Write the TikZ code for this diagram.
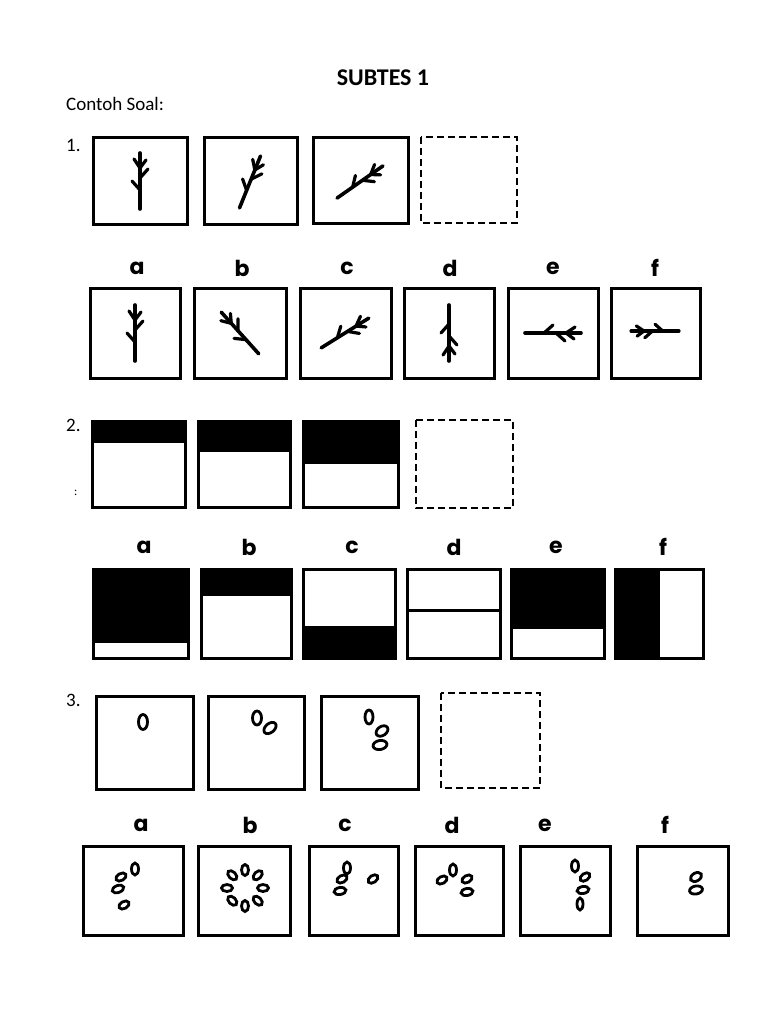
\documentclass[tikz,border=0pt]{standalone}
\usepackage{fontspec}
\setmainfont{Carlito}
\newfontfamily\lblfont{Poppins}
\begin{document}
\begin{tikzpicture}[x=1pt,y=-1pt,
  qbox/.style={draw,line width=3pt},
  dbox/.style={draw,line width=2.6pt,dash pattern=on 7pt off 4pt},
  lbl/.style={font=\lblfont\bfseries\fontsize{22}{24}\selectfont,inner sep=0pt},
  num/.style={font=\fontsize{19}{22}\selectfont,inner sep=0pt,anchor=west},
  blob/.style={draw,line width=2.8pt},
  twig/.pic={
    \draw[line width=3.6pt,line cap=round] (0,-28)--(0,28);
    \draw[line width=3.2pt,line cap=round] (0,-13)--(-6,-22) (0,-13)--(6,-21)
      (0,-3)--(8,-12) (0,9)--(-8,0);
  }]
\useasboundingbox (0,0) rectangle (768,1024);
\fill[white] (0,0) rectangle (768,1024);
\node[font=\bfseries\fontsize{24}{28}\selectfont] (title) at (383,78) {SUBTES 1};
\node[num] (cs) at (66,104) {Contoh Soal:};
% ---------- 1
\node[num] (n1) at (66,145) {1.};
\draw[qbox] (93,138) rectangle (187,225);
\draw[qbox] (204,138) rectangle (297,225);
\draw[qbox] (313,138) rectangle (408,224);
\draw[dbox] (421,137) rectangle (517,223);
\pic at (140,181) {twig};
\pic[rotate=-22] at (250,182) {twig};
\pic[rotate=-55] at (360,182) {twig};
\foreach \l/\x in {a/137,b/242,c/347,d/450,e/553,f/655}
  \node[lbl] (l1\l) at (\x,268) {\l};
\foreach \a/\b in {90/180,194/286,300/391,404/494,508/598,611/700}
  \draw[qbox] (\a,288) rectangle (\b,378);
\pic at (135,333) {twig};
\pic[rotate=42] at (240,333) {twig};
\pic[rotate=-58] at (345,333) {twig};
\pic[yscale=-1] at (449,333) {twig};
\pic[rotate=-90] at (553,333) {twig};
\pic[rotate=90,xscale=-1,scale=0.85] at (655,331) {twig};
% ---------- 2
\node[num] (n2) at (66,425) {2.};
\node[num,font=\fontsize{12}{14}\selectfont] (dot) at (74,493) {:};
\draw[qbox] (92,421) rectangle (185,507); \fill (92,421) rectangle (185,443);
\draw[qbox] (198,421) rectangle (290,507); \fill (198,421) rectangle (290,452);
\draw[qbox] (303,421) rectangle (398,507); \fill (303,421) rectangle (398,464);
\draw[dbox] (416,420) rectangle (513,508);
\foreach \l/\x in {a/144,b/249,c/352,d/454,e/556,f/663}
  \node[lbl] (l2\l) at (\x,547) {\l};
\draw[qbox] (93,569) rectangle (188,658); \fill (93,569) rectangle (188,643);
\draw[qbox] (201,569) rectangle (291,658); \fill (201,569) rectangle (291,596);
\draw[qbox] (303,569) rectangle (395,658); \fill (303,626) rectangle (395,658);
\draw[qbox] (407,569) rectangle (500,658); \draw[line width=3pt] (407,610)--(500,610);
\draw[qbox] (511,569) rectangle (604,658); \fill (511,569) rectangle (604,629);
\draw[qbox] (615,569) rectangle (703,658); \fill (615,569) rectangle (660,658);
% ---------- 3
\node[num] (n3) at (66,700) {3.};
\draw[qbox] (96,696) rectangle (193,789);
\draw[qbox] (208,696) rectangle (304,789);
\draw[qbox] (321,696) rectangle (418,789);
\draw[dbox] (441,693) rectangle (540,788);
\draw[blob] (143,722) ellipse (4.5 and 7.5);
\draw[blob] (257,718) ellipse (4.5 and 7);
\draw[blob,rotate around={-50:(270,728)}] (270,728) ellipse (4.5 and 7);
\draw[blob] (369,717) ellipse (4 and 7);
\draw[blob,rotate around={-55:(382,731)}] (382,731) ellipse (4.5 and 6.5);
\draw[blob,rotate around={-80:(380,745)}] (380,745) ellipse (4.5 and 7);
\foreach \l/\x in {a/141,b/250,c/345,d/452,e/545,f/665}
  \node[lbl] (l3\l) at (\x,825) {\l};
\foreach \a/\b in {83/183,198/290,309/398,415/503,520/610,637/728}
  \draw[qbox] (\a,846) rectangle (\b,935);
% a
\draw[blob] (135,869) ellipse (3.5 and 6);
\draw[blob,rotate around={-60:(121,877)}] (121,877) ellipse (3.5 and 5.5);
\draw[blob,rotate around={-70:(118,889)}] (118,889) ellipse (3.5 and 6);
\draw[blob,rotate around={-60:(124,905)}] (124,905) ellipse (3.5 and 5.5);
% b
\foreach \ang/\r in {90/0,45/-45,0/-90,-45/-135,-90/0,-135/45,180/90,135/45}
  \draw[blob,rotate around={\r:({245+18*cos(\ang)},{888-18*sin(\ang)})}]
    ({245+18*cos(\ang)},{888-18*sin(\ang)}) ellipse (3.5 and 5.5);
% c
\draw[blob] (347,868) ellipse (3.5 and 6);
\draw[blob,rotate around={-60:(342,879)}] (342,879) ellipse (3.5 and 5.5);
\draw[blob,rotate around={-80:(340,891)}] (340,891) ellipse (3.5 and 6);
\draw[blob,rotate around={-55:(373,879)}] (373,879) ellipse (3.5 and 5.5);
% d
\draw[blob] (453,870) ellipse (3.5 and 6);
\draw[blob,rotate around={-60:(442,880)}] (442,880) ellipse (3.5 and 5.5);
\draw[blob,rotate around={-60:(467,879)}] (467,879) ellipse (3.5 and 5.5);
\draw[blob,rotate around={-80:(467,892)}] (467,892) ellipse (3.5 and 6);
% e
\draw[blob] (575,866) ellipse (3.5 and 6);
\draw[blob,rotate around={-55:(585,877)}] (585,877) ellipse (3.5 and 5.5);
\draw[blob,rotate around={-80:(583,890)}] (583,890) ellipse (3.5 and 6);
\draw[blob] (580,904) ellipse (3 and 6);
% f
\draw[blob,rotate around={-60:(696,877)}] (696,877) ellipse (4 and 6);
\draw[blob,rotate around={-80:(696,890)}] (696,890) ellipse (4 and 6.5);
\end{tikzpicture}
\end{document}
